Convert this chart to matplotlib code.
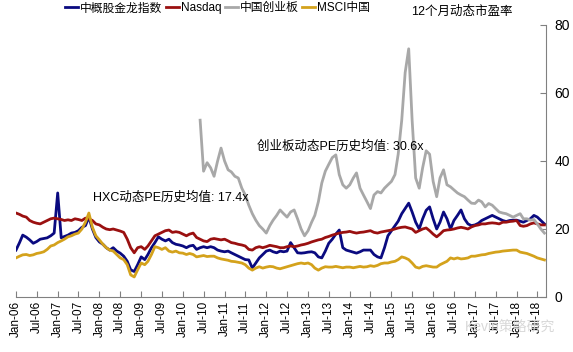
import pandas as pd
import matplotlib
matplotlib.use("Agg")
from matplotlib import pyplot as plt
import matplotlib.dates as mdates
from matplotlib.lines import Line2D

plt.rcParams['font.family'] = ['Liberation Sans', 'Noto Sans CJK SC', 'DejaVu Sans']

# monthly readings, Jan-2006 .. Sep-2018 (one row per year)
hxc = [
    13.8, 16.0, 18.2, 17.6, 16.8, 15.8, 16.3, 17.0, 17.2, 17.4, 18.0, 18.8,
    30.6, 17.4, 17.8, 18.2, 18.8, 19.0, 19.5, 20.5, 21.0, 23.5, 20.0, 17.5,
    16.2, 15.5, 14.5, 13.8, 14.5, 13.5, 12.9, 12.0, 10.5, 8.0, 7.5, 9.5,
    11.8, 11.0, 12.5, 14.5, 16.0, 17.7, 17.0, 16.5, 17.0, 16.0, 15.5, 15.3,
    15.0, 14.5, 15.0, 15.2, 14.0, 14.5, 14.8, 14.5, 14.8, 14.5, 13.8, 13.5,
    13.3, 13.5, 13.0, 12.5, 12.0, 11.5, 11.0, 10.9, 8.5, 10.0, 11.5, 12.5,
    13.5, 13.8, 13.3, 13.0, 13.5, 13.3, 13.5, 16.0, 14.5, 13.0, 12.9, 13.0,
    13.2, 13.3, 13.0, 11.8, 11.5, 13.5, 15.8, 17.0, 18.5, 19.7, 14.5, 13.8,
    13.5, 13.2, 12.9, 13.3, 13.8, 13.8, 13.8, 12.5, 11.8, 11.5, 14.5, 18.0,
    19.5, 21.0, 22.3, 24.5, 26.0, 27.6, 25.0, 22.0, 20.0, 23.0, 25.5, 26.5,
    23.0, 20.0, 22.0, 25.0, 23.0, 20.0, 22.5, 24.0, 25.6, 23.0, 21.5, 21.0,
    21.2, 21.7, 22.5, 23.0, 23.5, 24.0, 23.5, 23.0, 22.5, 22.2, 22.5, 22.6,
    22.6, 22.3, 22.0, 22.5, 23.0, 24.0, 23.5, 22.5, 21.5,
]
nasdaq = [
    24.7, 24.3, 23.8, 23.5, 22.5, 22.0, 21.7, 21.5, 22.0, 22.5, 23.0, 23.2,
    23.0, 22.8, 22.5, 22.7, 22.5, 23.0, 22.8, 22.5, 23.2, 23.0, 22.5, 21.5,
    21.2, 20.5, 20.0, 19.8, 20.0, 19.7, 19.4, 19.0, 17.0, 14.5, 13.0, 14.5,
    14.8, 14.0, 15.0, 16.5, 18.0, 18.5, 19.0, 19.5, 19.7, 19.0, 19.2, 19.0,
    18.5, 18.0, 18.5, 18.8, 17.5, 17.0, 16.5, 16.3, 17.0, 17.2, 17.0, 16.8,
    17.0, 16.5, 16.0, 15.8, 15.5, 15.3, 15.0, 14.0, 13.8, 14.5, 14.8, 14.5,
    14.8, 15.2, 15.0, 14.8, 14.5, 14.5, 14.8, 15.0, 14.8, 15.0, 15.3, 15.5,
    15.8, 16.2, 16.5, 16.8, 17.0, 17.5, 17.8, 18.2, 18.5, 18.8, 19.0, 19.1,
    19.3, 19.0, 18.8, 19.0, 19.1, 19.3, 19.5, 19.0, 18.8, 19.1, 19.3, 19.5,
    19.7, 20.0, 20.3, 20.5, 20.6, 20.3, 20.0, 19.0, 19.5, 20.0, 20.3, 19.5,
    18.5, 17.7, 18.5, 19.5, 19.7, 19.8, 20.0, 20.3, 20.5, 20.3, 20.0, 20.6,
    21.0, 21.2, 21.5, 21.5, 21.7, 21.8, 21.7, 21.5, 22.0, 22.0, 22.2, 22.3,
    22.5, 21.0, 20.8, 21.0, 21.5, 21.8, 21.5, 21.2, 21.2,
]
msci = [
    11.5, 12.0, 12.4, 12.5, 12.2, 12.4, 12.8, 13.0, 13.3, 14.0, 15.0, 15.3,
    16.0, 16.5, 17.0, 17.7, 18.0, 18.5, 18.8, 20.0, 22.0, 24.7, 20.5, 18.0,
    16.8, 15.5, 14.5, 13.8, 13.5, 12.5, 11.5, 11.0, 9.5, 6.5, 5.9, 8.0,
    10.0, 9.5, 10.5, 12.5, 14.8, 14.5, 14.0, 14.5, 13.5, 13.2, 13.5, 13.0,
    12.9, 12.5, 12.8, 12.5, 11.8, 12.0, 12.2, 11.9, 12.0, 12.0, 11.5, 11.2,
    11.0, 10.8, 10.5, 10.4, 10.2, 10.0, 9.5, 8.5, 7.9, 8.5, 8.9, 8.5,
    8.8, 9.0, 8.9, 8.5, 8.3, 8.6, 8.9, 9.2, 9.5, 9.8, 10.0, 9.8,
    10.0, 9.5, 8.5, 7.9, 8.5, 8.9, 8.8, 8.8, 9.0, 8.8, 8.6, 8.8,
    8.8, 8.6, 8.8, 9.0, 8.8, 8.9, 9.2, 9.0, 9.3, 9.8, 10.0, 10.0,
    10.3, 10.5, 11.0, 11.8, 11.5, 11.0, 10.0, 8.8, 8.5, 9.0, 9.2, 9.0,
    8.8, 8.8, 9.5, 10.0, 10.5, 11.5, 11.2, 11.5, 11.2, 11.3, 11.5, 12.0,
    12.0, 12.2, 12.4, 12.5, 12.8, 13.0, 13.2, 13.3, 13.5, 13.6, 13.7, 13.8,
    13.8, 13.2, 13.0, 12.8, 12.4, 12.0, 11.5, 11.2, 10.9,
]
# ChiNext starts Jun-2010
gem = [
    52.0, 37.0, 39.5, 38.0, 35.5, 40.0, 43.8,
    40.0, 37.4, 36.8, 35.5, 35.0, 32.0, 30.0, 27.0, 24.5, 22.6, 21.0, 20.0,
    18.8, 21.0, 22.6, 24.0, 25.6, 24.5, 23.5, 25.0, 25.6, 23.0, 20.0, 18.0,
    19.5, 22.0, 24.0, 28.0, 33.5, 37.0, 39.0, 41.0, 41.8, 36.0, 33.0, 32.0,
    33.0, 35.0, 36.5, 32.0, 30.0, 28.0, 26.0, 30.0, 31.0, 30.6, 32.0, 33.0,
    34.0, 36.0, 42.0, 52.0, 66.0, 73.0, 52.0, 35.0, 32.0, 38.0, 43.0, 42.0,
    34.0, 29.5, 35.0, 37.4, 33.0, 32.4, 31.5, 30.6, 30.0, 29.5, 28.5, 27.6,
    27.5, 28.5, 28.0, 26.5, 27.5, 27.0, 26.0, 25.0, 24.7, 24.5, 24.0, 23.5,
    24.0, 24.5, 23.0, 23.0, 22.6, 22.8, 21.5, 20.0, 18.8,
]

months = pd.date_range('2006-01-01', periods=len(hxc), freq='MS')
gem_months = pd.date_range('2010-06-01', periods=len(gem), freq='MS')

fig = plt.figure(figsize=(5.73, 3.52), dpi=100)
ax = fig.add_axes([16/573, 1-297/352, (546-16)/573, (297-25)/352])

lw = 2.0
ax.plot(months, hxc, color='#0a0a80', lw=lw)
ax.plot(months, nasdaq, color='#9a1010', lw=lw)
ax.plot(gem_months, gem, color='#a8a8a8', lw=lw)
ax.plot(months, msci, color='#d4a21c', lw=lw)

ax.set_ylim(0, 80)
ax.set_xlim(pd.Timestamp('2006-01-01'), pd.Timestamp('2018-09-15'))
ax.yaxis.tick_right()
ax.set_yticks([0, 20, 40, 60, 80])
ax.xaxis.set_major_locator(mdates.MonthLocator(bymonth=[1, 7]))
ax.xaxis.set_major_formatter(mdates.DateFormatter('%b-%y'))
ax.tick_params(axis='x', direction='in', length=4, rotation=90, labelsize=8.5, pad=3, color='#808080')
ax.tick_params(axis='y', direction='in', length=4, labelsize=10, pad=6, color='#808080')
for s in ['top', 'left']:
    ax.spines[s].set_visible(False)
for s in ['bottom', 'right']:
    ax.spines[s].set_color('#808080')

ax.text(pd.Timestamp('2007-11-05'), 29.1, 'HXC动态PE历史均值: 17.4x', fontsize=9, va='center')
ax.text(pd.Timestamp('2011-10-15'), 44.1, '创业板动态PE历史均值: 30.6x', fontsize=9, va='center')

handles = [
    Line2D([], [], color='#0a0a80', lw=lw),
    Line2D([], [], color='#9a1010', lw=lw),
    Line2D([], [], color='#a8a8a8', lw=lw),
    Line2D([], [], color='#d4a21c', lw=lw),
]
labels = ['中概股金龙指数', 'Nasdaq', '中国创业板', 'MSCI中国']
fig.legend(handles, labels, loc='upper left', bbox_to_anchor=(56/573, 1.02), ncol=4,
           frameon=False, fontsize=8.5, handlelength=1.1, handletextpad=0.15,
           columnspacing=0.3, borderpad=0.3)
fig.text(513/573, 1-12/352, '12个月动态市盈率', ha='right', va='center', fontsize=9)
fig.text(555/573, 1-327/352, 'Kevin策略研究', ha='right', va='center', fontsize=10, color='#d8d8d8')

fig.savefig('out.png', dpi=100)
